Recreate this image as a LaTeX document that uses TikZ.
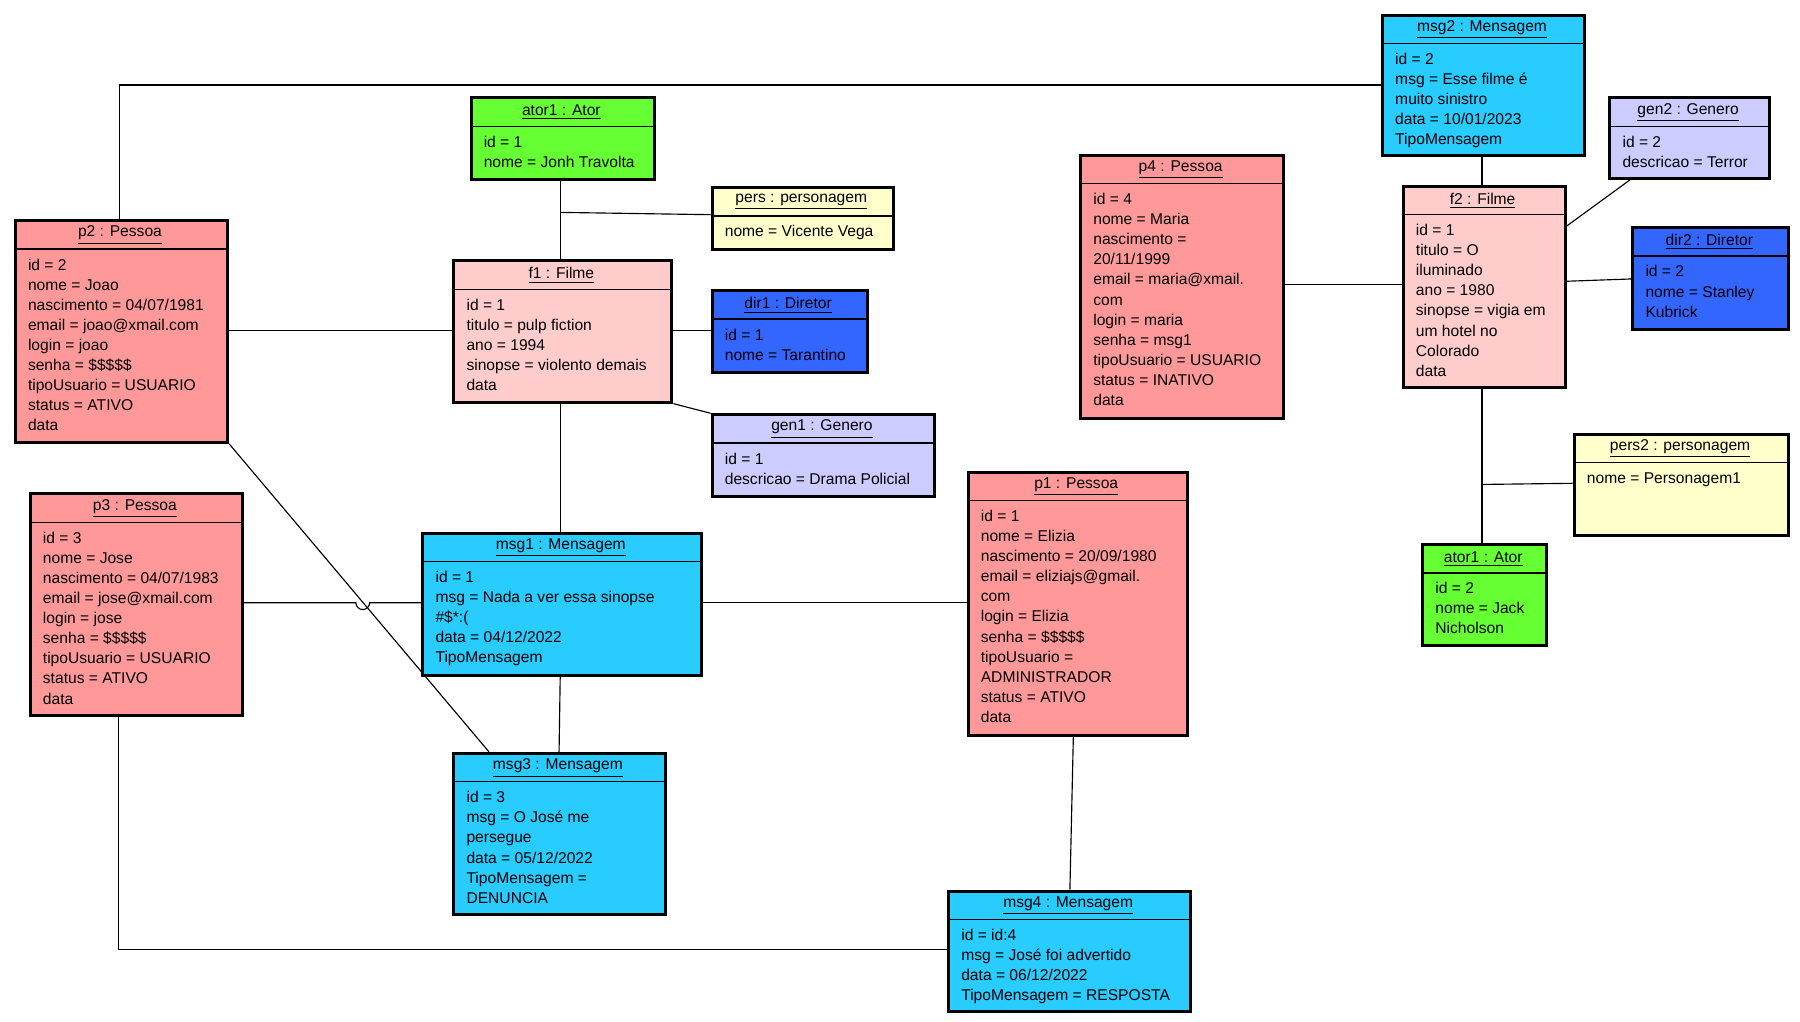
\documentclass[tikz,border=0pt]{standalone}
\usepackage{fontspec}
\setmainfont{Liberation Sans}
\begin{document}
\begin{tikzpicture}[x=0.5pt,y=-0.5pt,
  box/.style={draw=black,line width=1.3pt,anchor=north west,inner sep=0pt},
  ttl/.style={font=\fontsize{6.8}{8.75}\selectfont,inner sep=0pt},
  att/.style={font=\fontsize{6.8}{8.75}\selectfont,align=left,anchor=north west,inner sep=0pt},
  con/.style={draw=black,line width=0.5pt}]
\definecolor{cPes}{HTML}{FF9999}
\definecolor{cFil}{HTML}{FFCCCC}
\definecolor{cAt}{HTML}{66FF33}
\definecolor{cPer}{HTML}{FFFFCC}
\definecolor{cDir}{HTML}{3366FF}
\definecolor{cGen}{HTML}{CCCCFF}
\definecolor{cMsg}{HTML}{29CCFF}
\useasboundingbox (0,0) rectangle (1568,890);
\newcommand\uobj[8]{%
  \node[box,fill=#6,minimum width={(#4-#2)*0.5pt},minimum height={(#5-#3)*0.5pt}] (#1) at (#2,#3) {};
  \node[ttl] at ({(#2+#4)/2},#3+14) {\underline{#7}};
  \draw[line width=0.6pt] (#2,#3+26) -- (#4,#3+26);
  \node[att] at (#2+12,#3+34) {#8};
}
\uobj{p2}{12}{191}{197}{384}{cPes}{p2 : Pessoa}{id = 2\\nome = Joao\\nascimento = 04/07/1981\\email = joao@xmail.com\\login = joao\\senha = \$\$\$\$\$\\tipoUsuario = USUARIO\\status = ATIVO\\data}
\uobj{atorA}{409}{84}{569}{155}{cAt}{ator1 : Ator}{id = 1\\nome = Jonh Travolta}
\uobj{pers}{619}{162}{777}{216}{cPer}{pers : personagem}{nome = Vicente Vega}
\uobj{f1}{394}{226}{584}{349}{cFil}{f1 : Filme}{id = 1\\titulo = pulp fiction\\ano = 1994\\sinopse = violento demais\\data}
\uobj{dir1}{619}{252}{754}{323}{cDir}{dir1 : Diretor}{id = 1\\nome = Tarantino}
\uobj{gen1}{619}{360}{813}{431}{cGen}{gen1 : Genero}{id = 1\\descricao = Drama Policial}
\uobj{p3}{25}{429}{210}{622}{cPes}{p3 : Pessoa}{id = 3\\nome = Jose\\nascimento = 04/07/1983\\email = jose@xmail.com\\login = jose\\senha = \$\$\$\$\$\\tipoUsuario = USUARIO\\status = ATIVO\\data}
\uobj{msg1}{367}{463}{610}{587}{cMsg}{msg1 : Mensagem}{id = 1\\msg = Nada a ver essa sinopse\\\#\$*:(\\data = 04/12/2022\\TipoMensagem}
\uobj{msg3}{394}{655}{578}{795}{cMsg}{msg3 : Mensagem}{id = 3\\msg = O José me\\persegue\\data = 05/12/2022\\TipoMensagem =\\DENUNCIA}
\uobj{p1}{842}{410}{1033}{639}{cPes}{p1 : Pessoa}{id = 1\\nome = Elizia\\nascimento = 20/09/1980\\email = eliziajs@gmail.\\com\\login = Elizia\\senha = \$\$\$\$\$\\tipoUsuario =\\ADMINISTRADOR\\status = ATIVO\\data}
\uobj{msg4}{825}{775}{1036}{880}{cMsg}{msg4 : Mensagem}{id = id:4\\msg = José foi advertido\\data = 06/12/2022\\TipoMensagem = RESPOSTA}
\uobj{p4}{940}{134}{1117}{363}{cPes}{p4 : Pessoa}{id = 4\\nome = Maria\\nascimento =\\20/11/1999\\email = maria@xmail.\\com\\login = maria\\senha = msg1\\tipoUsuario = USUARIO\\status = INATIVO\\data}
\uobj{msg2}{1203}{12}{1379}{134}{cMsg}{msg2 : Mensagem}{id = 2\\msg = Esse filme é\\muito sinistro\\data = 10/01/2023\\TipoMensagem}
\uobj{gen2}{1401}{84}{1540}{154}{cGen}{gen2 : Genero}{id = 2\\descricao = Terror}
\uobj{f2}{1221}{161}{1362}{336}{cFil}{f2 : Filme}{id = 1\\titulo = O\\iluminado\\ano = 1980\\sinopse = vigia em\\um hotel no\\Colorado\\data}
\uobj{dir2}{1421}{197}{1557}{286}{cDir}{dir2 : Diretor}{id = 2\\nome = Stanley\\Kubrick}
\uobj{pers2}{1370}{377}{1557}{465}{cPer}{pers2 : personagem}{nome = Personagem1}
\uobj{atorB}{1238}{473}{1346}{561}{cAt}{ator1 : Ator}{id = 2\\nome = Jack\\Nicholson}
% connectors
\coordinate (b1) at (104,74);
\coordinate (j1) at (488,185);
\coordinate (b2) at (103,827);
\coordinate (j2) at (1291,422);
\draw[con] (p2.north -| b1) -- (b1) -- (msg2.west |- b1);
\draw[con] (atorA.south -| j1) -- (f1.north -| j1);
\draw[con] (j1) -- (pers.west |- 0,187);
\draw[con] (p2.east |- 0,288) -- (f1.west |- 0,288);
\draw[con] (f1.east |- 0,288) -- (dir1.west |- 0,288);
\draw[con] (f1.south east) -- (gen1.north west);
\draw[con] (f1.south -| j1) -- (msg1.north -| j1);
\draw[con] (p2.south east) -- (msg3.north west -| 426,0);
\draw[con] (p3.east |- 0,525) -- (310,525) arc (180:0:6) -- (msg1.west |- 0,525);
\draw[con] (msg1.east |- 0,525) -- (p1.west |- 0,525);
\draw[con] (msg1.south -| 488,0) -- (msg3.north -| 487,0);
\draw[con] (p1.south -| 935,0) -- (msg4.north -| 932,0);
\draw[con] (p3.south -| b2) -- (b2) -- (msg4.west |- b2);
\draw[con] (p4.east |- 0,248) -- (f2.west |- 0,248);
\draw[con] (msg2.south -| 1291,0) -- (f2.north -| 1291,0);
\draw[con] (f2.east |- 0,197) -- (gen2.south west -| 1420,0);
\draw[con] (f2.east |- 0,245) -- (dir2.west |- 0,243);
\draw[con] (f2.south -| j2) -- (atorB.north -| j2);
\draw[con] (j2) -- (pers2.west |- 0,421);
\end{tikzpicture}
\end{document}
